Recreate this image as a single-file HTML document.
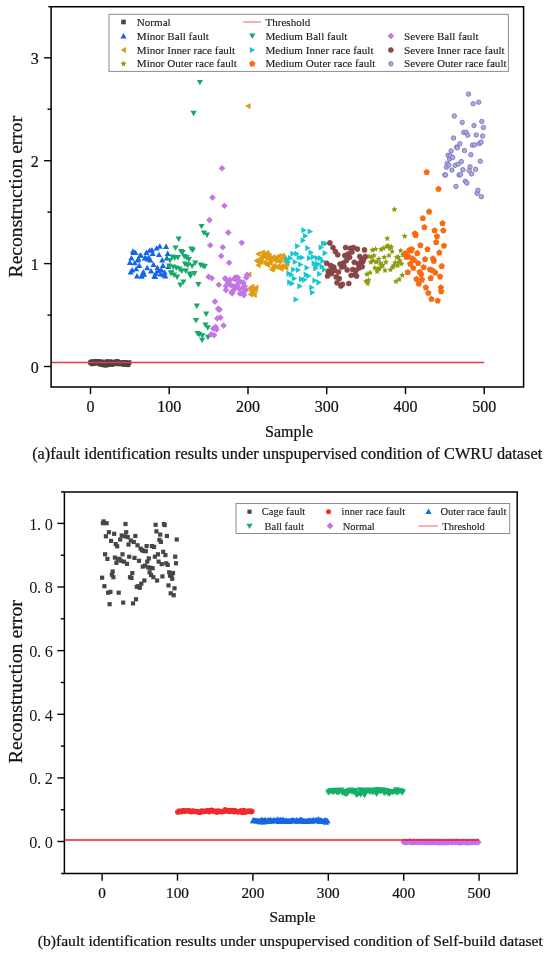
<!DOCTYPE html>
<html><head><meta charset="utf-8"><title>fault identification results</title>
<style>html,body{margin:0;padding:0;background:#fff}svg{display:block}text{stroke:#000;stroke-width:0.22px;paint-order:stroke}.t1 text{stroke-width:0.2px}.lg text,text.lg{stroke-width:0.12px}.y2 text{stroke-width:0px}</style>
</head><body><svg width="550" height="957" viewBox="0 0 550 957"><defs><path id="sq" d="M-2.3,-2.3h4.6v4.6h-4.6Z"/><path id="sq2" d="M-2.1,-2.1h4.2v4.2h-4.2Z"/><path id="tu" d="M0,-2.9L3.1,2.5L-3.1,2.5Z"/><path id="td" d="M0,2.9L3.1,-2.5L-3.1,-2.5Z"/><path id="tl" d="M-2.9,0L2.5,-3.1L2.5,3.1Z"/><path id="tr" d="M2.9,0L-2.5,-3.1L-2.5,3.1Z"/><path id="st" d="M0.00,-3.25 L0.88,-1.21 L3.09,-1.00 L1.43,0.46 L1.91,2.63 L0.00,1.50 L-1.91,2.63 L-1.43,0.46 L-3.09,-1.00 L-0.88,-1.21Z"/><path id="pe" d="M0.00,-3.35 L3.19,-1.04 L1.97,2.71 L-1.97,2.71 L-3.19,-1.04Z"/><path id="di" d="M0,-3.3L3.3,0L0,3.3L-3.3,0Z"/></defs><rect width="550" height="957" fill="#fff"/><g fill="#454545"><use href="#sq" x="90.5" y="362.6"/><use href="#sq" x="91.3" y="361.9"/><use href="#sq" x="92.1" y="363.9"/><use href="#sq" x="92.9" y="361.6"/><use href="#sq" x="93.6" y="363.4"/><use href="#sq" x="94.4" y="362.8"/><use href="#sq" x="95.2" y="361.5"/><use href="#sq" x="96.0" y="363.3"/><use href="#sq" x="96.8" y="361.4"/><use href="#sq" x="97.6" y="363.0"/><use href="#sq" x="98.4" y="361.6"/><use href="#sq" x="99.2" y="361.7"/><use href="#sq" x="99.9" y="363.0"/><use href="#sq" x="100.7" y="364.6"/><use href="#sq" x="101.5" y="361.8"/><use href="#sq" x="102.3" y="362.2"/><use href="#sq" x="103.1" y="363.8"/><use href="#sq" x="103.9" y="365.1"/><use href="#sq" x="104.7" y="363.6"/><use href="#sq" x="105.5" y="362.9"/><use href="#sq" x="106.2" y="365.2"/><use href="#sq" x="107.0" y="361.5"/><use href="#sq" x="107.8" y="364.7"/><use href="#sq" x="108.6" y="362.5"/><use href="#sq" x="109.4" y="361.9"/><use href="#sq" x="110.2" y="361.8"/><use href="#sq" x="111.0" y="362.5"/><use href="#sq" x="111.8" y="364.6"/><use href="#sq" x="112.5" y="362.0"/><use href="#sq" x="113.3" y="363.6"/><use href="#sq" x="114.1" y="363.9"/><use href="#sq" x="114.9" y="362.8"/><use href="#sq" x="115.7" y="363.5"/><use href="#sq" x="116.5" y="361.6"/><use href="#sq" x="117.3" y="361.5"/><use href="#sq" x="118.1" y="362.1"/><use href="#sq" x="118.8" y="364.0"/><use href="#sq" x="119.6" y="363.0"/><use href="#sq" x="120.4" y="362.6"/><use href="#sq" x="121.2" y="363.6"/><use href="#sq" x="122.0" y="363.1"/><use href="#sq" x="122.8" y="362.5"/><use href="#sq" x="123.6" y="364.5"/><use href="#sq" x="124.4" y="364.1"/><use href="#sq" x="125.1" y="362.3"/><use href="#sq" x="125.9" y="363.6"/><use href="#sq" x="126.7" y="363.4"/><use href="#sq" x="127.5" y="364.8"/><use href="#sq" x="128.3" y="364.2"/><use href="#sq" x="129.1" y="362.5"/></g><g fill="#1466E6"><use href="#tu" x="129.9" y="262.4"/><use href="#tu" x="130.7" y="272.1"/><use href="#tu" x="131.4" y="258.0"/><use href="#tu" x="132.2" y="270.0"/><use href="#tu" x="133.0" y="251.2"/><use href="#tu" x="133.8" y="252.4"/><use href="#tu" x="134.6" y="262.8"/><use href="#tu" x="135.4" y="252.6"/><use href="#tu" x="136.2" y="268.8"/><use href="#tu" x="137.0" y="275.9"/><use href="#tu" x="137.7" y="260.0"/><use href="#tu" x="138.5" y="258.8"/><use href="#tu" x="139.3" y="265.5"/><use href="#tu" x="140.1" y="255.2"/><use href="#tu" x="140.9" y="255.3"/><use href="#tu" x="141.7" y="276.2"/><use href="#tu" x="142.5" y="274.2"/><use href="#tu" x="143.3" y="272.0"/><use href="#tu" x="144.0" y="274.3"/><use href="#tu" x="144.8" y="257.9"/><use href="#tu" x="145.6" y="257.7"/><use href="#tu" x="146.4" y="252.4"/><use href="#tu" x="147.2" y="267.7"/><use href="#tu" x="148.0" y="258.9"/><use href="#tu" x="148.8" y="257.4"/><use href="#tu" x="149.6" y="250.3"/><use href="#tu" x="150.3" y="260.0"/><use href="#tu" x="151.1" y="271.0"/><use href="#tu" x="151.9" y="249.8"/><use href="#tu" x="152.7" y="253.5"/><use href="#tu" x="153.5" y="264.4"/><use href="#tu" x="154.3" y="276.1"/><use href="#tu" x="155.1" y="276.4"/><use href="#tu" x="155.9" y="273.2"/><use href="#tu" x="156.6" y="248.1"/><use href="#tu" x="157.4" y="267.7"/><use href="#tu" x="158.2" y="270.7"/><use href="#tu" x="159.0" y="254.6"/><use href="#tu" x="159.8" y="246.2"/><use href="#tu" x="160.6" y="274.1"/><use href="#tu" x="161.4" y="270.0"/><use href="#tu" x="162.2" y="260.0"/><use href="#tu" x="162.9" y="265.5"/><use href="#tu" x="163.7" y="274.8"/><use href="#tu" x="164.5" y="272.2"/><use href="#tu" x="165.3" y="276.0"/><use href="#tu" x="166.1" y="246.5"/><use href="#tu" x="166.9" y="258.0"/><use href="#tu" x="167.7" y="253.5"/><use href="#tu" x="168.5" y="266.6"/></g><g fill="#12AA68"><use href="#td" x="169.2" y="266.1"/><use href="#td" x="170.0" y="260.5"/><use href="#td" x="170.8" y="273.0"/><use href="#td" x="171.6" y="272.8"/><use href="#td" x="172.4" y="257.0"/><use href="#td" x="173.2" y="267.0"/><use href="#td" x="174.0" y="275.0"/><use href="#td" x="174.8" y="258.0"/><use href="#td" x="175.5" y="248.0"/><use href="#td" x="176.3" y="268.0"/><use href="#td" x="177.1" y="277.0"/><use href="#td" x="177.9" y="257.5"/><use href="#td" x="178.7" y="239.0"/><use href="#td" x="179.5" y="269.0"/><use href="#td" x="180.3" y="285.0"/><use href="#td" x="181.1" y="251.5"/><use href="#td" x="181.8" y="271.0"/><use href="#td" x="182.6" y="252.5"/><use href="#td" x="183.4" y="282.0"/><use href="#td" x="184.2" y="256.5"/><use href="#td" x="185.0" y="264.0"/><use href="#td" x="185.8" y="271.0"/><use href="#td" x="186.6" y="257.5"/><use href="#td" x="187.4" y="265.0"/><use href="#td" x="188.1" y="264.9"/><use href="#td" x="188.9" y="259.5"/><use href="#td" x="189.7" y="274.0"/><use href="#td" x="190.5" y="276.0"/><use href="#td" x="191.3" y="249.0"/><use href="#td" x="192.1" y="266.0"/><use href="#td" x="192.9" y="250.0"/><use href="#td" x="193.6" y="113.3"/><use href="#td" x="194.4" y="273.5"/><use href="#td" x="195.2" y="263.0"/><use href="#td" x="196.0" y="320.5"/><use href="#td" x="196.8" y="306.0"/><use href="#td" x="197.6" y="333.6"/><use href="#td" x="198.4" y="284.5"/><use href="#td" x="199.2" y="334.4"/><use href="#td" x="199.9" y="82.4"/><use href="#td" x="200.7" y="265.0"/><use href="#td" x="201.5" y="226.4"/><use href="#td" x="202.3" y="335.8"/><use href="#td" x="203.1" y="266.0"/><use href="#td" x="203.9" y="232.9"/><use href="#td" x="204.7" y="266.5"/><use href="#td" x="205.5" y="324.9"/><use href="#td" x="206.2" y="314.0"/><use href="#td" x="207.0" y="235.1"/><use href="#td" x="207.8" y="327.8"/><use href="#td" x="202.1" y="340.2"/><use href="#td" x="208.0" y="337.3"/></g><g fill="#E29C12"><use href="#tl" x="248.0" y="106.1"/><use href="#tl" x="248.8" y="274.5"/><use href="#tl" x="249.6" y="288.5"/><use href="#tl" x="250.3" y="294.5"/><use href="#tl" x="251.1" y="291.0"/><use href="#tl" x="251.9" y="286.5"/><use href="#tl" x="252.7" y="292.5"/><use href="#tl" x="253.5" y="289.5"/><use href="#tl" x="254.3" y="295.0"/><use href="#tl" x="255.1" y="290.0"/><use href="#tl" x="255.9" y="287.5"/><use href="#tl" x="256.6" y="260.5"/><use href="#tl" x="257.4" y="261.6"/><use href="#tl" x="258.2" y="265.2"/><use href="#tl" x="259.0" y="260.7"/><use href="#tl" x="259.8" y="261.1"/><use href="#tl" x="260.6" y="261.9"/><use href="#tl" x="261.4" y="257.8"/><use href="#tl" x="262.2" y="255.8"/><use href="#tl" x="262.9" y="253.1"/><use href="#tl" x="263.7" y="256.0"/><use href="#tl" x="264.5" y="262.2"/><use href="#tl" x="265.3" y="256.8"/><use href="#tl" x="266.1" y="256.6"/><use href="#tl" x="266.9" y="252.9"/><use href="#tl" x="267.7" y="265.2"/><use href="#tl" x="268.5" y="255.4"/><use href="#tl" x="269.2" y="256.7"/><use href="#tl" x="270.0" y="262.2"/><use href="#tl" x="270.8" y="259.8"/><use href="#tl" x="271.6" y="269.5"/><use href="#tl" x="272.4" y="269.4"/><use href="#tl" x="273.2" y="267.3"/><use href="#tl" x="274.0" y="265.6"/><use href="#tl" x="274.8" y="260.3"/><use href="#tl" x="275.5" y="259.1"/><use href="#tl" x="276.3" y="259.9"/><use href="#tl" x="277.1" y="256.9"/><use href="#tl" x="277.9" y="266.3"/><use href="#tl" x="278.7" y="261.4"/><use href="#tl" x="279.5" y="267.4"/><use href="#tl" x="280.3" y="260.3"/><use href="#tl" x="281.1" y="267.5"/><use href="#tl" x="281.8" y="266.1"/><use href="#tl" x="282.6" y="255.5"/><use href="#tl" x="283.4" y="258.1"/><use href="#tl" x="284.2" y="266.9"/><use href="#tl" x="285.0" y="261.4"/><use href="#tl" x="285.8" y="267.8"/><use href="#tl" x="286.6" y="260.5"/><use href="#tl" x="258.0" y="254.0"/><use href="#tl" x="262.0" y="252.5"/><use href="#tl" x="265.0" y="255.0"/><use href="#tl" x="268.0" y="259.0"/><use href="#tl" x="273.0" y="257.0"/><use href="#tl" x="279.0" y="256.0"/><use href="#tl" x="284.0" y="258.0"/><use href="#tl" x="287.0" y="264.0"/><use href="#tl" x="281.0" y="269.0"/><use href="#tl" x="259.0" y="262.0"/><use href="#tl" x="266.0" y="264.0"/><use href="#tl" x="276.0" y="267.0"/><use href="#tl" x="270.0" y="263.0"/></g><g fill="#8E9A12"><use href="#st" x="366.1" y="281.2"/><use href="#st" x="366.9" y="274.2"/><use href="#st" x="367.7" y="283.5"/><use href="#st" x="368.5" y="280.2"/><use href="#st" x="369.2" y="256.5"/><use href="#st" x="370.0" y="272.8"/><use href="#st" x="370.8" y="262.2"/><use href="#st" x="371.6" y="257.0"/><use href="#st" x="372.4" y="250.0"/><use href="#st" x="373.2" y="260.8"/><use href="#st" x="374.0" y="255.6"/><use href="#st" x="374.8" y="267.9"/><use href="#st" x="375.5" y="249.1"/><use href="#st" x="376.3" y="262.2"/><use href="#st" x="377.1" y="271.5"/><use href="#st" x="377.9" y="268.8"/><use href="#st" x="378.7" y="258.9"/><use href="#st" x="379.5" y="268.7"/><use href="#st" x="380.3" y="263.0"/><use href="#st" x="381.1" y="249.5"/><use href="#st" x="381.8" y="266.3"/><use href="#st" x="382.6" y="265.3"/><use href="#st" x="383.4" y="248.3"/><use href="#st" x="384.2" y="257.3"/><use href="#st" x="385.0" y="270.4"/><use href="#st" x="385.8" y="262.0"/><use href="#st" x="386.6" y="246.6"/><use href="#st" x="387.3" y="238.5"/><use href="#st" x="388.1" y="245.8"/><use href="#st" x="388.9" y="255.6"/><use href="#st" x="389.7" y="248.3"/><use href="#st" x="390.5" y="269.7"/><use href="#st" x="391.3" y="246.9"/><use href="#st" x="392.1" y="251.6"/><use href="#st" x="392.9" y="267.1"/><use href="#st" x="393.6" y="265.6"/><use href="#st" x="394.4" y="209.5"/><use href="#st" x="395.2" y="262.7"/><use href="#st" x="396.0" y="281.4"/><use href="#st" x="396.8" y="257.3"/><use href="#st" x="397.6" y="265.5"/><use href="#st" x="398.4" y="257.0"/><use href="#st" x="399.2" y="279.4"/><use href="#st" x="399.9" y="260.6"/><use href="#st" x="400.7" y="250.7"/><use href="#st" x="401.5" y="263.8"/><use href="#st" x="402.3" y="275.3"/><use href="#st" x="403.1" y="255.0"/><use href="#st" x="403.9" y="254.4"/><use href="#st" x="404.7" y="236.2"/><use href="#st" x="399.0" y="262.0"/></g><g fill="#14C6D0"><use href="#tr" x="287.4" y="259.2"/><use href="#tr" x="288.1" y="262.0"/><use href="#tr" x="288.9" y="273.6"/><use href="#tr" x="289.7" y="282.4"/><use href="#tr" x="290.5" y="258.2"/><use href="#tr" x="291.3" y="274.7"/><use href="#tr" x="292.1" y="283.6"/><use href="#tr" x="292.9" y="253.7"/><use href="#tr" x="293.6" y="269.6"/><use href="#tr" x="294.4" y="278.5"/><use href="#tr" x="295.2" y="262.0"/><use href="#tr" x="296.0" y="299.5"/><use href="#tr" x="296.8" y="253.7"/><use href="#tr" x="297.6" y="246.1"/><use href="#tr" x="298.4" y="270.0"/><use href="#tr" x="299.2" y="257.5"/><use href="#tr" x="299.9" y="286.2"/><use href="#tr" x="300.7" y="264.5"/><use href="#tr" x="301.5" y="279.2"/><use href="#tr" x="302.3" y="257.5"/><use href="#tr" x="303.1" y="240.4"/><use href="#tr" x="303.9" y="230.2"/><use href="#tr" x="304.7" y="279.8"/><use href="#tr" x="305.5" y="235.9"/><use href="#tr" x="306.2" y="274.7"/><use href="#tr" x="307.0" y="267.7"/><use href="#tr" x="307.8" y="248.0"/><use href="#tr" x="308.6" y="276.0"/><use href="#tr" x="309.4" y="258.2"/><use href="#tr" x="310.2" y="231.5"/><use href="#tr" x="311.0" y="252.5"/><use href="#tr" x="311.8" y="287.5"/><use href="#tr" x="312.5" y="292.5"/><use href="#tr" x="313.3" y="256.9"/><use href="#tr" x="314.1" y="263.3"/><use href="#tr" x="314.9" y="280.5"/><use href="#tr" x="315.7" y="268.4"/><use href="#tr" x="316.5" y="266.3"/><use href="#tr" x="317.3" y="258.2"/><use href="#tr" x="318.1" y="263.9"/><use href="#tr" x="318.8" y="282.4"/><use href="#tr" x="319.6" y="274.0"/><use href="#tr" x="320.4" y="258.2"/><use href="#tr" x="321.2" y="247.5"/><use href="#tr" x="322.0" y="266.6"/><use href="#tr" x="322.8" y="261.0"/><use href="#tr" x="323.6" y="243.5"/><use href="#tr" x="324.4" y="269.6"/><use href="#tr" x="325.1" y="253.1"/><use href="#tr" x="325.9" y="243.5"/></g><g fill="#FA6A0E"><use href="#pe" x="405.5" y="253.3"/><use href="#pe" x="406.2" y="257.1"/><use href="#pe" x="407.0" y="255.4"/><use href="#pe" x="407.8" y="272.4"/><use href="#pe" x="408.6" y="256.8"/><use href="#pe" x="409.4" y="250.0"/><use href="#pe" x="410.2" y="264.1"/><use href="#pe" x="411.0" y="250.8"/><use href="#pe" x="411.8" y="249.3"/><use href="#pe" x="412.5" y="258.7"/><use href="#pe" x="413.3" y="268.0"/><use href="#pe" x="414.1" y="260.2"/><use href="#pe" x="414.9" y="233.6"/><use href="#pe" x="415.7" y="235.2"/><use href="#pe" x="416.5" y="279.0"/><use href="#pe" x="417.3" y="253.2"/><use href="#pe" x="418.1" y="263.4"/><use href="#pe" x="418.8" y="283.7"/><use href="#pe" x="419.6" y="272.0"/><use href="#pe" x="420.4" y="245.3"/><use href="#pe" x="421.2" y="274.3"/><use href="#pe" x="422.0" y="279.8"/><use href="#pe" x="422.8" y="218.3"/><use href="#pe" x="423.6" y="267.3"/><use href="#pe" x="424.4" y="227.3"/><use href="#pe" x="425.1" y="259.4"/><use href="#pe" x="425.9" y="287.6"/><use href="#pe" x="426.7" y="172.2"/><use href="#pe" x="427.5" y="249.3"/><use href="#pe" x="428.3" y="293.1"/><use href="#pe" x="429.1" y="211.7"/><use href="#pe" x="429.9" y="269.6"/><use href="#pe" x="430.7" y="278.2"/><use href="#pe" x="431.4" y="299.1"/><use href="#pe" x="432.2" y="270.4"/><use href="#pe" x="433.0" y="258.7"/><use href="#pe" x="433.8" y="261.0"/><use href="#pe" x="434.6" y="230.5"/><use href="#pe" x="435.4" y="272.7"/><use href="#pe" x="436.2" y="242.2"/><use href="#pe" x="437.0" y="236.3"/><use href="#pe" x="437.7" y="300.9"/><use href="#pe" x="438.5" y="189.0"/><use href="#pe" x="439.3" y="252.7"/><use href="#pe" x="440.1" y="276.7"/><use href="#pe" x="440.9" y="287.6"/><use href="#pe" x="441.7" y="266.2"/><use href="#pe" x="442.5" y="223.4"/><use href="#pe" x="443.3" y="230.5"/><use href="#pe" x="444.0" y="245.8"/><use href="#pe" x="441.2" y="291.5"/></g><g fill="#C476E5"><use href="#di" x="208.6" y="276.7"/><use href="#di" x="209.4" y="220.1"/><use href="#di" x="210.2" y="245.2"/><use href="#di" x="211.0" y="334.4"/><use href="#di" x="211.8" y="278.3"/><use href="#di" x="212.5" y="197.6"/><use href="#di" x="213.3" y="328.5"/><use href="#di" x="214.1" y="335.1"/><use href="#di" x="214.9" y="301.6"/><use href="#di" x="215.7" y="327.1"/><use href="#di" x="216.5" y="329.4"/><use href="#di" x="217.3" y="318.4"/><use href="#di" x="218.1" y="308.9"/><use href="#di" x="218.8" y="284.7"/><use href="#di" x="219.6" y="309.6"/><use href="#di" x="220.4" y="317.6"/><use href="#di" x="221.2" y="256.0"/><use href="#di" x="222.0" y="168.2"/><use href="#di" x="222.8" y="247.2"/><use href="#di" x="223.6" y="325.6"/><use href="#di" x="224.4" y="205.7"/><use href="#di" x="225.1" y="278.4"/><use href="#di" x="225.9" y="290.1"/><use href="#di" x="226.7" y="280.0"/><use href="#di" x="227.5" y="284.0"/><use href="#di" x="228.3" y="232.6"/><use href="#di" x="229.1" y="262.7"/><use href="#di" x="229.9" y="279.9"/><use href="#di" x="230.7" y="284.9"/><use href="#di" x="231.4" y="292.2"/><use href="#di" x="232.2" y="293.3"/><use href="#di" x="233.0" y="286.3"/><use href="#di" x="233.8" y="290.0"/><use href="#di" x="234.6" y="279.1"/><use href="#di" x="235.4" y="277.4"/><use href="#di" x="236.2" y="286.4"/><use href="#di" x="237.0" y="285.0"/><use href="#di" x="237.7" y="277.6"/><use href="#di" x="238.5" y="281.2"/><use href="#di" x="239.3" y="289.0"/><use href="#di" x="240.1" y="293.6"/><use href="#di" x="240.9" y="282.0"/><use href="#di" x="241.7" y="242.7"/><use href="#di" x="242.5" y="287.8"/><use href="#di" x="243.3" y="282.5"/><use href="#di" x="244.0" y="295.1"/><use href="#di" x="244.8" y="286.3"/><use href="#di" x="245.6" y="290.1"/><use href="#di" x="246.4" y="277.4"/><use href="#di" x="247.2" y="274.8"/><use href="#di" x="243.2" y="292.6"/><use href="#di" x="226.0" y="286.0"/></g><g fill="#8C4848" stroke="#7a3c3c" stroke-width="0.5"><circle cx="326.7" cy="263.3" r="2.55"/><circle cx="327.5" cy="276.0" r="2.55"/><circle cx="328.3" cy="272.0" r="2.55"/><circle cx="329.1" cy="270.7" r="2.55"/><circle cx="329.9" cy="242.9" r="2.55"/><circle cx="330.7" cy="265.5" r="2.55"/><circle cx="331.4" cy="273.6" r="2.55"/><circle cx="332.2" cy="270.8" r="2.55"/><circle cx="333.0" cy="247.5" r="2.55"/><circle cx="333.8" cy="267.1" r="2.55"/><circle cx="334.6" cy="270.4" r="2.55"/><circle cx="335.4" cy="251.6" r="2.55"/><circle cx="336.2" cy="276.9" r="2.55"/><circle cx="337.0" cy="282.7" r="2.55"/><circle cx="337.7" cy="254.8" r="2.55"/><circle cx="338.5" cy="272.0" r="2.55"/><circle cx="339.3" cy="278.6" r="2.55"/><circle cx="340.1" cy="264.0" r="2.55"/><circle cx="340.9" cy="285.9" r="2.55"/><circle cx="341.7" cy="267.1" r="2.55"/><circle cx="342.5" cy="284.3" r="2.55"/><circle cx="343.3" cy="263.0" r="2.55"/><circle cx="344.0" cy="266.3" r="2.55"/><circle cx="344.8" cy="255.6" r="2.55"/><circle cx="345.6" cy="247.5" r="2.55"/><circle cx="346.4" cy="260.6" r="2.55"/><circle cx="347.2" cy="270.0" r="2.55"/><circle cx="348.0" cy="254.0" r="2.55"/><circle cx="348.8" cy="283.5" r="2.55"/><circle cx="349.6" cy="257.3" r="2.55"/><circle cx="350.3" cy="248.3" r="2.55"/><circle cx="351.1" cy="275.3" r="2.55"/><circle cx="351.9" cy="252.0" r="2.55"/><circle cx="352.7" cy="269.5" r="2.55"/><circle cx="353.5" cy="247.5" r="2.55"/><circle cx="354.3" cy="262.2" r="2.55"/><circle cx="355.1" cy="274.5" r="2.55"/><circle cx="355.9" cy="270.4" r="2.55"/><circle cx="356.6" cy="276.1" r="2.55"/><circle cx="357.4" cy="249.1" r="2.55"/><circle cx="358.2" cy="263.8" r="2.55"/><circle cx="359.0" cy="267.9" r="2.55"/><circle cx="359.8" cy="256.5" r="2.55"/><circle cx="360.6" cy="265.5" r="2.55"/><circle cx="361.4" cy="260.7" r="2.55"/><circle cx="362.2" cy="266.7" r="2.55"/><circle cx="362.9" cy="261.4" r="2.55"/><circle cx="363.7" cy="258.9" r="2.55"/><circle cx="364.5" cy="249.9" r="2.55"/><circle cx="365.3" cy="256.5" r="2.55"/></g><g fill="#9DAFE6" stroke="#8662B2" stroke-width="0.75"><circle cx="444.8" cy="174.9" r="2.25"/><circle cx="445.6" cy="175.0" r="2.25"/><circle cx="446.4" cy="167.2" r="2.25"/><circle cx="447.2" cy="163.4" r="2.25"/><circle cx="448.0" cy="155.3" r="2.25"/><circle cx="448.8" cy="165.1" r="2.25"/><circle cx="449.6" cy="159.0" r="2.25"/><circle cx="450.3" cy="155.9" r="2.25"/><circle cx="451.1" cy="150.9" r="2.25"/><circle cx="451.9" cy="170.1" r="2.25"/><circle cx="452.7" cy="157.5" r="2.25"/><circle cx="453.5" cy="138.0" r="2.25"/><circle cx="454.3" cy="116.0" r="2.25"/><circle cx="455.1" cy="165.3" r="2.25"/><circle cx="455.9" cy="186.4" r="2.25"/><circle cx="456.6" cy="147.1" r="2.25"/><circle cx="457.4" cy="147.8" r="2.25"/><circle cx="458.2" cy="164.1" r="2.25"/><circle cx="459.0" cy="175.1" r="2.25"/><circle cx="459.8" cy="143.7" r="2.25"/><circle cx="460.6" cy="174.4" r="2.25"/><circle cx="461.4" cy="161.6" r="2.25"/><circle cx="462.2" cy="122.4" r="2.25"/><circle cx="462.9" cy="169.7" r="2.25"/><circle cx="463.7" cy="132.4" r="2.25"/><circle cx="464.5" cy="150.6" r="2.25"/><circle cx="465.3" cy="181.3" r="2.25"/><circle cx="466.1" cy="132.3" r="2.25"/><circle cx="466.9" cy="183.1" r="2.25"/><circle cx="467.7" cy="135.2" r="2.25"/><circle cx="468.5" cy="94.1" r="2.25"/><circle cx="469.2" cy="170.6" r="2.25"/><circle cx="470.0" cy="166.8" r="2.25"/><circle cx="470.8" cy="154.7" r="2.25"/><circle cx="471.6" cy="173.9" r="2.25"/><circle cx="472.4" cy="145.2" r="2.25"/><circle cx="473.2" cy="103.8" r="2.25"/><circle cx="474.0" cy="125.5" r="2.25"/><circle cx="474.8" cy="144.8" r="2.25"/><circle cx="475.5" cy="169.3" r="2.25"/><circle cx="476.3" cy="135.0" r="2.25"/><circle cx="477.1" cy="193.3" r="2.25"/><circle cx="477.9" cy="190.2" r="2.25"/><circle cx="478.7" cy="102.2" r="2.25"/><circle cx="479.5" cy="143.4" r="2.25"/><circle cx="480.3" cy="161.3" r="2.25"/><circle cx="481.1" cy="142.1" r="2.25"/><circle cx="481.8" cy="121.4" r="2.25"/><circle cx="482.6" cy="136.1" r="2.25"/><circle cx="483.4" cy="127.4" r="2.25"/><circle cx="481.4" cy="196.7" r="2.25"/></g><line x1="51.1" y1="362.6" x2="484.2" y2="362.6" stroke="#EE3440" stroke-width="1.5"/><g stroke="#000" stroke-width="1.5" fill="none" stroke-linejoin="miter"><path d="M51.1,6.7 H523.6 V387.0 H51.1 Z"/><path d="M48.3,6.7 H51.1"/></g><g stroke="#000" stroke-width="1.4"><line x1="90.5" y1="387.0" x2="90.5" y2="394.2"/><line x1="169.2" y1="387.0" x2="169.2" y2="394.2"/><line x1="248.0" y1="387.0" x2="248.0" y2="394.2"/><line x1="326.7" y1="387.0" x2="326.7" y2="394.2"/><line x1="405.5" y1="387.0" x2="405.5" y2="394.2"/><line x1="484.2" y1="387.0" x2="484.2" y2="394.2"/><line x1="51.1" y1="366.5" x2="44.1" y2="366.5"/><line x1="51.1" y1="263.6" x2="44.1" y2="263.6"/><line x1="51.1" y1="160.7" x2="44.1" y2="160.7"/><line x1="51.1" y1="57.8" x2="44.1" y2="57.8"/><line x1="51.1" y1="315.1" x2="47.5" y2="315.1"/><line x1="51.1" y1="212.1" x2="47.5" y2="212.1"/><line x1="51.1" y1="109.2" x2="47.5" y2="109.2"/></g><g class="t1" style="font-family:'Liberation Serif','Times New Roman',serif;font-size:16px" fill="#111" text-anchor="middle"><text x="90.5" y="412.2">0</text><text x="169.2" y="412.2">100</text><text x="248.0" y="412.2">200</text><text x="326.7" y="412.2">300</text><text x="405.5" y="412.2">400</text><text x="484.2" y="412.2">500</text></g><g class="t1" style="font-family:'Liberation Serif','Times New Roman',serif;font-size:16px" fill="#111" text-anchor="end"><text x="38.8" y="372.5">0</text><text x="38.8" y="269.6">1</text><text x="38.8" y="166.7">2</text><text x="38.8" y="63.8">3</text></g><text x="289.1" y="436.5" text-anchor="middle" style="font-family:'Liberation Serif','Times New Roman',serif;font-size:16px" fill="#111">Sample</text><text transform="translate(21.9,196.6) rotate(-90)" text-anchor="middle" style="font-family:'Liberation Serif','Times New Roman',serif;font-size:19.6px" fill="#111">Reconstruction error</text><text x="32.2" y="459.2" textLength="510" lengthAdjust="spacingAndGlyphs" style="font-family:'Liberation Serif','Times New Roman',serif;font-size:15.7px" fill="#111">(a)fault identification results under unspupervised condition of CWRU dataset</text><rect x="109" y="14.3" width="399.4" height="57.1" fill="#fff" stroke="#8c8c8c" stroke-width="1"/><use href="#sq" x="123.5" y="22.0" fill="#454545"/><text class="lg" x="136.8" y="25.5" style="font-family:'Liberation Serif','Times New Roman',serif;font-size:11.1px" fill="#1a1a1a">Normal</text><use href="#tu" x="123.5" y="36.0" fill="#1466E6"/><text class="lg" x="136.8" y="39.5" style="font-family:'Liberation Serif','Times New Roman',serif;font-size:11.1px" fill="#1a1a1a">Minor Ball fault</text><use href="#tl" x="123.5" y="50.0" fill="#E29C12"/><text class="lg" x="136.8" y="53.5" style="font-family:'Liberation Serif','Times New Roman',serif;font-size:11.1px" fill="#1a1a1a">Minor Inner race fault</text><use href="#st" x="123.5" y="63.8" fill="#8E9A12"/><text class="lg" x="136.8" y="67.3" style="font-family:'Liberation Serif','Times New Roman',serif;font-size:11.1px" fill="#1a1a1a">Minor Outer race fault</text><line x1="243.2" y1="22.0" x2="260.9" y2="22.0" stroke="#F59A9A" stroke-width="1.6"/><text class="lg" x="265.4" y="25.5" style="font-family:'Liberation Serif','Times New Roman',serif;font-size:11.1px" fill="#1a1a1a">Threshold</text><use href="#td" x="252.3" y="36.0" fill="#12AA68"/><text class="lg" x="265.4" y="39.5" style="font-family:'Liberation Serif','Times New Roman',serif;font-size:11.1px" fill="#1a1a1a">Medium Ball fault</text><use href="#tr" x="252.3" y="50.0" fill="#14C6D0"/><text class="lg" x="265.4" y="53.5" style="font-family:'Liberation Serif','Times New Roman',serif;font-size:11.1px" fill="#1a1a1a">Medium Inner race fault</text><use href="#pe" x="252.3" y="63.8" fill="#FA6A0E"/><text class="lg" x="265.4" y="67.3" style="font-family:'Liberation Serif','Times New Roman',serif;font-size:11.1px" fill="#1a1a1a">Medium Outer race fault</text><use href="#di" x="390.9" y="36.0" fill="#C476E5"/><text class="lg" x="404.0" y="39.5" style="font-family:'Liberation Serif','Times New Roman',serif;font-size:11.1px" fill="#1a1a1a">Severe Ball fault</text><circle cx="390.9" cy="50.0" r="2.5" fill="#8C4848" stroke="#7a3c3c" stroke-width="0.5"/><text class="lg" x="404.0" y="53.5" style="font-family:'Liberation Serif','Times New Roman',serif;font-size:11.1px" fill="#1a1a1a">Severe Inner race fault</text><circle cx="390.9" cy="63.8" r="2.25" fill="#9DAFE6" stroke="#8662B2" stroke-width="0.75"/><text class="lg" x="404.0" y="67.3" style="font-family:'Liberation Serif','Times New Roman',serif;font-size:11.1px" fill="#1a1a1a">Severe Outer race fault</text><g fill="#464646"><use href="#sq2" x="102.1" y="577.7"/><use href="#sq2" x="102.9" y="523.2"/><use href="#sq2" x="103.6" y="521.4"/><use href="#sq2" x="104.4" y="586.2"/><use href="#sq2" x="105.1" y="554.3"/><use href="#sq2" x="105.9" y="536.3"/><use href="#sq2" x="106.6" y="523.2"/><use href="#sq2" x="107.4" y="558.9"/><use href="#sq2" x="108.1" y="592.7"/><use href="#sq2" x="108.9" y="532.2"/><use href="#sq2" x="109.6" y="604.2"/><use href="#sq2" x="110.4" y="591.9"/><use href="#sq2" x="111.1" y="540.9"/><use href="#sq2" x="111.9" y="574.7"/><use href="#sq2" x="112.7" y="571.5"/><use href="#sq2" x="113.4" y="577.2"/><use href="#sq2" x="114.2" y="533.8"/><use href="#sq2" x="114.9" y="557.6"/><use href="#sq2" x="115.7" y="544.1"/><use href="#sq2" x="116.4" y="562.8"/><use href="#sq2" x="117.2" y="546.3"/><use href="#sq2" x="117.9" y="558.9"/><use href="#sq2" x="118.7" y="592.7"/><use href="#sq2" x="119.4" y="559.0"/><use href="#sq2" x="120.2" y="539.5"/><use href="#sq2" x="120.9" y="560.8"/><use href="#sq2" x="121.7" y="535.5"/><use href="#sq2" x="122.5" y="554.3"/><use href="#sq2" x="123.2" y="602.6"/><use href="#sq2" x="124.0" y="561.6"/><use href="#sq2" x="124.7" y="536.3"/><use href="#sq2" x="125.5" y="524.0"/><use href="#sq2" x="126.2" y="532.2"/><use href="#sq2" x="127.0" y="563.8"/><use href="#sq2" x="127.7" y="537.1"/><use href="#sq2" x="128.5" y="544.5"/><use href="#sq2" x="129.2" y="556.7"/><use href="#sq2" x="130.0" y="577.2"/><use href="#sq2" x="130.8" y="540.5"/><use href="#sq2" x="131.5" y="578.0"/><use href="#sq2" x="132.3" y="573.1"/><use href="#sq2" x="133.0" y="603.4"/><use href="#sq2" x="133.8" y="542.0"/><use href="#sq2" x="134.5" y="557.9"/><use href="#sq2" x="135.3" y="536.0"/><use href="#sq2" x="136.0" y="599.3"/><use href="#sq2" x="136.8" y="586.8"/><use href="#sq2" x="137.5" y="545.3"/><use href="#sq2" x="138.3" y="586.2"/><use href="#sq2" x="139.0" y="560.8"/><use href="#sq2" x="139.8" y="587.8"/><use href="#sq2" x="140.6" y="548.6"/><use href="#sq2" x="141.3" y="583.7"/><use href="#sq2" x="142.1" y="550.2"/><use href="#sq2" x="142.8" y="566.6"/><use href="#sq2" x="143.6" y="551.0"/><use href="#sq2" x="144.3" y="580.5"/><use href="#sq2" x="145.1" y="565.6"/><use href="#sq2" x="145.8" y="551.2"/><use href="#sq2" x="146.6" y="546.1"/><use href="#sq2" x="147.3" y="561.6"/><use href="#sq2" x="148.1" y="567.4"/><use href="#sq2" x="148.8" y="558.4"/><use href="#sq2" x="149.6" y="572.3"/><use href="#sq2" x="150.4" y="567.7"/><use href="#sq2" x="151.1" y="575.0"/><use href="#sq2" x="151.9" y="546.1"/><use href="#sq2" x="152.6" y="568.2"/><use href="#sq2" x="153.4" y="577.2"/><use href="#sq2" x="154.1" y="546.9"/><use href="#sq2" x="154.9" y="556.7"/><use href="#sq2" x="155.6" y="524.8"/><use href="#sq2" x="156.4" y="531.4"/><use href="#sq2" x="157.1" y="580.5"/><use href="#sq2" x="157.9" y="554.3"/><use href="#sq2" x="158.6" y="561.6"/><use href="#sq2" x="159.4" y="539.9"/><use href="#sq2" x="160.2" y="534.6"/><use href="#sq2" x="160.9" y="541.9"/><use href="#sq2" x="161.7" y="564.1"/><use href="#sq2" x="162.4" y="576.4"/><use href="#sq2" x="163.2" y="551.8"/><use href="#sq2" x="163.9" y="524.1"/><use href="#sq2" x="164.7" y="525.1"/><use href="#sq2" x="165.4" y="555.1"/><use href="#sq2" x="166.2" y="563.3"/><use href="#sq2" x="166.9" y="536.0"/><use href="#sq2" x="167.7" y="564.9"/><use href="#sq2" x="168.5" y="585.4"/><use href="#sq2" x="169.2" y="572.3"/><use href="#sq2" x="170.0" y="575.6"/><use href="#sq2" x="170.7" y="593.3"/><use href="#sq2" x="171.5" y="576.2"/><use href="#sq2" x="172.2" y="578.8"/><use href="#sq2" x="173.0" y="573.1"/><use href="#sq2" x="173.7" y="595.2"/><use href="#sq2" x="174.5" y="588.3"/><use href="#sq2" x="175.2" y="556.7"/><use href="#sq2" x="176.0" y="563.3"/><use href="#sq2" x="176.7" y="539.5"/></g><g fill="#F02A2A"><circle cx="177.5" cy="811.9" r="2.5"/><circle cx="178.3" cy="812.2" r="2.5"/><circle cx="179.0" cy="811.0" r="2.5"/><circle cx="179.8" cy="810.9" r="2.5"/><circle cx="180.5" cy="811.5" r="2.5"/><circle cx="181.3" cy="812.1" r="2.5"/><circle cx="182.0" cy="811.3" r="2.5"/><circle cx="182.8" cy="810.4" r="2.5"/><circle cx="183.5" cy="810.6" r="2.5"/><circle cx="184.3" cy="810.9" r="2.5"/><circle cx="185.0" cy="811.4" r="2.5"/><circle cx="185.8" cy="810.9" r="2.5"/><circle cx="186.5" cy="810.7" r="2.5"/><circle cx="187.3" cy="810.7" r="2.5"/><circle cx="188.1" cy="811.0" r="2.5"/><circle cx="188.8" cy="810.5" r="2.5"/><circle cx="189.6" cy="811.0" r="2.5"/><circle cx="190.3" cy="811.2" r="2.5"/><circle cx="191.1" cy="812.0" r="2.5"/><circle cx="191.8" cy="811.1" r="2.5"/><circle cx="192.6" cy="811.8" r="2.5"/><circle cx="193.3" cy="810.8" r="2.5"/><circle cx="194.1" cy="811.8" r="2.5"/><circle cx="194.8" cy="811.5" r="2.5"/><circle cx="195.6" cy="811.2" r="2.5"/><circle cx="196.3" cy="811.5" r="2.5"/><circle cx="197.1" cy="812.0" r="2.5"/><circle cx="197.9" cy="811.4" r="2.5"/><circle cx="198.6" cy="812.1" r="2.5"/><circle cx="199.4" cy="812.4" r="2.5"/><circle cx="200.1" cy="812.4" r="2.5"/><circle cx="200.9" cy="812.3" r="2.5"/><circle cx="201.6" cy="810.7" r="2.5"/><circle cx="202.4" cy="811.5" r="2.5"/><circle cx="203.1" cy="810.9" r="2.5"/><circle cx="203.9" cy="811.7" r="2.5"/><circle cx="204.6" cy="811.2" r="2.5"/><circle cx="205.4" cy="811.2" r="2.5"/><circle cx="206.2" cy="811.2" r="2.5"/><circle cx="206.9" cy="810.6" r="2.5"/><circle cx="207.7" cy="811.0" r="2.5"/><circle cx="208.4" cy="810.5" r="2.5"/><circle cx="209.2" cy="812.0" r="2.5"/><circle cx="209.9" cy="810.6" r="2.5"/><circle cx="210.7" cy="810.9" r="2.5"/><circle cx="211.4" cy="810.0" r="2.5"/><circle cx="212.2" cy="810.2" r="2.5"/><circle cx="212.9" cy="810.6" r="2.5"/><circle cx="213.7" cy="811.5" r="2.5"/><circle cx="214.4" cy="811.6" r="2.5"/><circle cx="215.2" cy="811.4" r="2.5"/><circle cx="216.0" cy="811.0" r="2.5"/><circle cx="216.7" cy="812.4" r="2.5"/><circle cx="217.5" cy="810.9" r="2.5"/><circle cx="218.2" cy="811.0" r="2.5"/><circle cx="219.0" cy="811.8" r="2.5"/><circle cx="219.7" cy="811.0" r="2.5"/><circle cx="220.5" cy="811.7" r="2.5"/><circle cx="221.2" cy="812.1" r="2.5"/><circle cx="222.0" cy="811.5" r="2.5"/><circle cx="222.7" cy="811.7" r="2.5"/><circle cx="223.5" cy="811.5" r="2.5"/><circle cx="224.2" cy="811.0" r="2.5"/><circle cx="225.0" cy="809.6" r="2.5"/><circle cx="225.8" cy="810.6" r="2.5"/><circle cx="226.5" cy="811.2" r="2.5"/><circle cx="227.3" cy="810.2" r="2.5"/><circle cx="228.0" cy="810.7" r="2.5"/><circle cx="228.8" cy="811.1" r="2.5"/><circle cx="229.5" cy="811.7" r="2.5"/><circle cx="230.3" cy="810.2" r="2.5"/><circle cx="231.0" cy="810.6" r="2.5"/><circle cx="231.8" cy="811.0" r="2.5"/><circle cx="232.5" cy="811.2" r="2.5"/><circle cx="233.3" cy="810.2" r="2.5"/><circle cx="234.0" cy="811.9" r="2.5"/><circle cx="234.8" cy="810.5" r="2.5"/><circle cx="235.6" cy="811.6" r="2.5"/><circle cx="236.3" cy="811.0" r="2.5"/><circle cx="237.1" cy="811.4" r="2.5"/><circle cx="237.8" cy="812.2" r="2.5"/><circle cx="238.6" cy="811.7" r="2.5"/><circle cx="239.3" cy="811.5" r="2.5"/><circle cx="240.1" cy="810.9" r="2.5"/><circle cx="240.8" cy="811.1" r="2.5"/><circle cx="241.6" cy="810.8" r="2.5"/><circle cx="242.3" cy="812.7" r="2.5"/><circle cx="243.1" cy="810.7" r="2.5"/><circle cx="243.9" cy="810.2" r="2.5"/><circle cx="244.6" cy="812.4" r="2.5"/><circle cx="245.4" cy="812.2" r="2.5"/><circle cx="246.1" cy="811.3" r="2.5"/><circle cx="246.9" cy="811.8" r="2.5"/><circle cx="247.6" cy="810.9" r="2.5"/><circle cx="248.4" cy="810.9" r="2.5"/><circle cx="249.1" cy="811.5" r="2.5"/><circle cx="249.9" cy="811.3" r="2.5"/><circle cx="250.6" cy="810.8" r="2.5"/><circle cx="251.4" cy="811.9" r="2.5"/><circle cx="252.1" cy="811.3" r="2.5"/></g><g fill="#1468E0"><use href="#tu" x="252.9" y="820.7"/><use href="#tu" x="253.7" y="819.9"/><use href="#tu" x="254.4" y="820.7"/><use href="#tu" x="255.2" y="820.4"/><use href="#tu" x="255.9" y="820.6"/><use href="#tu" x="256.7" y="821.1"/><use href="#tu" x="257.4" y="820.3"/><use href="#tu" x="258.2" y="820.8"/><use href="#tu" x="258.9" y="821.1"/><use href="#tu" x="259.7" y="820.8"/><use href="#tu" x="260.4" y="822.0"/><use href="#tu" x="261.2" y="819.6"/><use href="#tu" x="261.9" y="820.6"/><use href="#tu" x="262.7" y="819.9"/><use href="#tu" x="263.5" y="820.6"/><use href="#tu" x="264.2" y="822.1"/><use href="#tu" x="265.0" y="819.6"/><use href="#tu" x="265.7" y="820.4"/><use href="#tu" x="266.5" y="821.0"/><use href="#tu" x="267.2" y="820.7"/><use href="#tu" x="268.0" y="821.2"/><use href="#tu" x="268.7" y="819.7"/><use href="#tu" x="269.5" y="821.2"/><use href="#tu" x="270.2" y="820.0"/><use href="#tu" x="271.0" y="819.9"/><use href="#tu" x="271.8" y="821.0"/><use href="#tu" x="272.5" y="820.9"/><use href="#tu" x="273.3" y="820.2"/><use href="#tu" x="274.0" y="820.1"/><use href="#tu" x="274.8" y="820.5"/><use href="#tu" x="275.5" y="820.6"/><use href="#tu" x="276.3" y="820.5"/><use href="#tu" x="277.0" y="820.0"/><use href="#tu" x="277.8" y="819.2"/><use href="#tu" x="278.5" y="821.4"/><use href="#tu" x="279.3" y="820.7"/><use href="#tu" x="280.0" y="819.9"/><use href="#tu" x="280.8" y="819.7"/><use href="#tu" x="281.6" y="820.2"/><use href="#tu" x="282.3" y="820.4"/><use href="#tu" x="283.1" y="819.3"/><use href="#tu" x="283.8" y="821.4"/><use href="#tu" x="284.6" y="820.9"/><use href="#tu" x="285.3" y="820.4"/><use href="#tu" x="286.1" y="820.8"/><use href="#tu" x="286.8" y="820.7"/><use href="#tu" x="287.6" y="821.2"/><use href="#tu" x="288.3" y="820.7"/><use href="#tu" x="289.1" y="821.4"/><use href="#tu" x="289.8" y="821.5"/><use href="#tu" x="290.6" y="820.4"/><use href="#tu" x="291.4" y="820.3"/><use href="#tu" x="292.1" y="820.1"/><use href="#tu" x="292.9" y="820.5"/><use href="#tu" x="293.6" y="820.2"/><use href="#tu" x="294.4" y="820.6"/><use href="#tu" x="295.1" y="820.8"/><use href="#tu" x="295.9" y="820.9"/><use href="#tu" x="296.6" y="819.9"/><use href="#tu" x="297.4" y="821.3"/><use href="#tu" x="298.1" y="820.4"/><use href="#tu" x="298.9" y="820.5"/><use href="#tu" x="299.6" y="820.3"/><use href="#tu" x="300.4" y="819.4"/><use href="#tu" x="301.2" y="820.8"/><use href="#tu" x="301.9" y="819.6"/><use href="#tu" x="302.7" y="821.3"/><use href="#tu" x="303.4" y="820.6"/><use href="#tu" x="304.2" y="821.5"/><use href="#tu" x="304.9" y="821.0"/><use href="#tu" x="305.7" y="821.0"/><use href="#tu" x="306.4" y="821.4"/><use href="#tu" x="307.2" y="820.6"/><use href="#tu" x="307.9" y="821.5"/><use href="#tu" x="308.7" y="820.5"/><use href="#tu" x="309.4" y="820.8"/><use href="#tu" x="310.2" y="820.2"/><use href="#tu" x="311.0" y="820.9"/><use href="#tu" x="311.7" y="821.0"/><use href="#tu" x="312.5" y="820.3"/><use href="#tu" x="313.2" y="819.8"/><use href="#tu" x="314.0" y="820.6"/><use href="#tu" x="314.7" y="820.9"/><use href="#tu" x="315.5" y="820.5"/><use href="#tu" x="316.2" y="820.0"/><use href="#tu" x="317.0" y="820.2"/><use href="#tu" x="317.7" y="820.4"/><use href="#tu" x="318.5" y="819.0"/><use href="#tu" x="319.3" y="820.3"/><use href="#tu" x="320.0" y="821.5"/><use href="#tu" x="320.8" y="819.8"/><use href="#tu" x="321.5" y="820.5"/><use href="#tu" x="322.3" y="821.6"/><use href="#tu" x="323.0" y="821.0"/><use href="#tu" x="323.8" y="821.2"/><use href="#tu" x="324.5" y="820.5"/><use href="#tu" x="325.3" y="819.8"/><use href="#tu" x="326.0" y="822.3"/><use href="#tu" x="326.8" y="820.8"/><use href="#tu" x="327.5" y="820.7"/></g><g fill="#12B068"><use href="#td" x="328.3" y="792.7"/><use href="#td" x="329.1" y="792.1"/><use href="#td" x="329.8" y="791.3"/><use href="#td" x="330.6" y="791.3"/><use href="#td" x="331.3" y="790.6"/><use href="#td" x="332.1" y="791.3"/><use href="#td" x="332.8" y="792.2"/><use href="#td" x="333.6" y="791.7"/><use href="#td" x="334.3" y="791.9"/><use href="#td" x="335.1" y="790.2"/><use href="#td" x="335.8" y="790.7"/><use href="#td" x="336.6" y="792.0"/><use href="#td" x="337.3" y="792.2"/><use href="#td" x="338.1" y="791.9"/><use href="#td" x="338.9" y="792.5"/><use href="#td" x="339.6" y="790.5"/><use href="#td" x="340.4" y="790.6"/><use href="#td" x="341.1" y="790.0"/><use href="#td" x="341.9" y="791.5"/><use href="#td" x="342.6" y="793.2"/><use href="#td" x="343.4" y="792.3"/><use href="#td" x="344.1" y="791.6"/><use href="#td" x="344.9" y="793.5"/><use href="#td" x="345.6" y="794.2"/><use href="#td" x="346.4" y="792.6"/><use href="#td" x="347.1" y="794.1"/><use href="#td" x="347.9" y="791.2"/><use href="#td" x="348.7" y="790.9"/><use href="#td" x="349.4" y="791.1"/><use href="#td" x="350.2" y="790.8"/><use href="#td" x="350.9" y="790.0"/><use href="#td" x="351.7" y="791.7"/><use href="#td" x="352.4" y="791.3"/><use href="#td" x="353.2" y="792.2"/><use href="#td" x="353.9" y="790.4"/><use href="#td" x="354.7" y="790.7"/><use href="#td" x="355.4" y="791.3"/><use href="#td" x="356.2" y="794.8"/><use href="#td" x="357.0" y="794.9"/><use href="#td" x="357.7" y="793.4"/><use href="#td" x="358.5" y="793.6"/><use href="#td" x="359.2" y="792.9"/><use href="#td" x="360.0" y="789.8"/><use href="#td" x="360.7" y="794.7"/><use href="#td" x="361.5" y="793.7"/><use href="#td" x="362.2" y="790.5"/><use href="#td" x="363.0" y="790.9"/><use href="#td" x="363.7" y="791.2"/><use href="#td" x="364.5" y="795.4"/><use href="#td" x="365.2" y="793.7"/><use href="#td" x="366.0" y="790.5"/><use href="#td" x="366.8" y="790.1"/><use href="#td" x="367.5" y="790.5"/><use href="#td" x="368.3" y="790.7"/><use href="#td" x="369.0" y="791.1"/><use href="#td" x="369.8" y="791.9"/><use href="#td" x="370.5" y="791.8"/><use href="#td" x="371.3" y="790.2"/><use href="#td" x="372.0" y="791.2"/><use href="#td" x="372.8" y="792.5"/><use href="#td" x="373.5" y="790.2"/><use href="#td" x="374.3" y="790.6"/><use href="#td" x="375.0" y="792.3"/><use href="#td" x="375.8" y="791.0"/><use href="#td" x="376.6" y="794.2"/><use href="#td" x="377.3" y="789.6"/><use href="#td" x="378.1" y="790.8"/><use href="#td" x="378.8" y="790.8"/><use href="#td" x="379.6" y="790.9"/><use href="#td" x="380.3" y="791.4"/><use href="#td" x="381.1" y="791.0"/><use href="#td" x="381.8" y="790.7"/><use href="#td" x="382.6" y="789.7"/><use href="#td" x="383.3" y="791.0"/><use href="#td" x="384.1" y="793.2"/><use href="#td" x="384.9" y="792.8"/><use href="#td" x="385.6" y="790.6"/><use href="#td" x="386.4" y="790.7"/><use href="#td" x="387.1" y="792.4"/><use href="#td" x="387.9" y="793.0"/><use href="#td" x="388.6" y="792.2"/><use href="#td" x="389.4" y="794.1"/><use href="#td" x="390.1" y="791.3"/><use href="#td" x="390.9" y="791.9"/><use href="#td" x="391.6" y="791.8"/><use href="#td" x="392.4" y="792.3"/><use href="#td" x="393.1" y="791.5"/><use href="#td" x="393.9" y="791.5"/><use href="#td" x="394.7" y="791.7"/><use href="#td" x="395.4" y="791.6"/><use href="#td" x="396.2" y="789.7"/><use href="#td" x="396.9" y="793.1"/><use href="#td" x="397.7" y="790.4"/><use href="#td" x="398.4" y="791.9"/><use href="#td" x="399.2" y="791.0"/><use href="#td" x="399.9" y="790.9"/><use href="#td" x="400.7" y="790.8"/><use href="#td" x="401.4" y="791.4"/><use href="#td" x="402.2" y="792.9"/><use href="#td" x="402.9" y="791.7"/></g><g fill="#C272E6"><use href="#di" x="403.7" y="842.0"/><use href="#di" x="404.5" y="841.6"/><use href="#di" x="405.2" y="842.2"/><use href="#di" x="406.0" y="842.0"/><use href="#di" x="406.7" y="842.0"/><use href="#di" x="407.5" y="842.0"/><use href="#di" x="408.2" y="841.8"/><use href="#di" x="409.0" y="841.7"/><use href="#di" x="409.7" y="841.2"/><use href="#di" x="410.5" y="841.6"/><use href="#di" x="411.2" y="842.1"/><use href="#di" x="412.0" y="842.2"/><use href="#di" x="412.7" y="842.0"/><use href="#di" x="413.5" y="841.5"/><use href="#di" x="414.3" y="841.9"/><use href="#di" x="415.0" y="842.0"/><use href="#di" x="415.8" y="841.7"/><use href="#di" x="416.5" y="842.3"/><use href="#di" x="417.3" y="841.7"/><use href="#di" x="418.0" y="842.0"/><use href="#di" x="418.8" y="841.7"/><use href="#di" x="419.5" y="842.2"/><use href="#di" x="420.3" y="841.7"/><use href="#di" x="421.0" y="841.8"/><use href="#di" x="421.8" y="842.3"/><use href="#di" x="422.5" y="841.7"/><use href="#di" x="423.3" y="841.9"/><use href="#di" x="424.1" y="842.1"/><use href="#di" x="424.8" y="842.1"/><use href="#di" x="425.6" y="841.6"/><use href="#di" x="426.3" y="842.1"/><use href="#di" x="427.1" y="841.9"/><use href="#di" x="427.8" y="842.3"/><use href="#di" x="428.6" y="841.6"/><use href="#di" x="429.3" y="842.2"/><use href="#di" x="430.1" y="842.1"/><use href="#di" x="430.8" y="841.9"/><use href="#di" x="431.6" y="841.9"/><use href="#di" x="432.4" y="842.1"/><use href="#di" x="433.1" y="841.8"/><use href="#di" x="433.9" y="841.9"/><use href="#di" x="434.6" y="841.8"/><use href="#di" x="435.4" y="842.0"/><use href="#di" x="436.1" y="842.2"/><use href="#di" x="436.9" y="841.6"/><use href="#di" x="437.6" y="842.0"/><use href="#di" x="438.4" y="842.1"/><use href="#di" x="439.1" y="842.4"/><use href="#di" x="439.9" y="841.8"/><use href="#di" x="440.6" y="842.3"/><use href="#di" x="441.4" y="841.9"/><use href="#di" x="442.2" y="842.1"/><use href="#di" x="442.9" y="842.1"/><use href="#di" x="443.7" y="842.1"/><use href="#di" x="444.4" y="841.9"/><use href="#di" x="445.2" y="841.8"/><use href="#di" x="445.9" y="842.4"/><use href="#di" x="446.7" y="842.4"/><use href="#di" x="447.4" y="842.0"/><use href="#di" x="448.2" y="842.0"/><use href="#di" x="448.9" y="841.9"/><use href="#di" x="449.7" y="841.7"/><use href="#di" x="450.4" y="841.7"/><use href="#di" x="451.2" y="842.1"/><use href="#di" x="452.0" y="842.2"/><use href="#di" x="452.7" y="841.9"/><use href="#di" x="453.5" y="841.8"/><use href="#di" x="454.2" y="841.7"/><use href="#di" x="455.0" y="841.8"/><use href="#di" x="455.7" y="842.2"/><use href="#di" x="456.5" y="842.0"/><use href="#di" x="457.2" y="841.6"/><use href="#di" x="458.0" y="841.7"/><use href="#di" x="458.7" y="842.1"/><use href="#di" x="459.5" y="842.1"/><use href="#di" x="460.2" y="842.4"/><use href="#di" x="461.0" y="842.4"/><use href="#di" x="461.8" y="842.0"/><use href="#di" x="462.5" y="841.8"/><use href="#di" x="463.3" y="842.0"/><use href="#di" x="464.0" y="841.7"/><use href="#di" x="464.8" y="841.8"/><use href="#di" x="465.5" y="842.2"/><use href="#di" x="466.3" y="842.2"/><use href="#di" x="467.0" y="842.2"/><use href="#di" x="467.8" y="842.4"/><use href="#di" x="468.5" y="841.9"/><use href="#di" x="469.3" y="842.2"/><use href="#di" x="470.1" y="842.0"/><use href="#di" x="470.8" y="842.1"/><use href="#di" x="471.6" y="842.1"/><use href="#di" x="472.3" y="842.1"/><use href="#di" x="473.1" y="841.7"/><use href="#di" x="473.8" y="841.7"/><use href="#di" x="474.6" y="842.0"/><use href="#di" x="475.3" y="842.1"/><use href="#di" x="476.1" y="841.9"/><use href="#di" x="476.8" y="842.0"/><use href="#di" x="477.6" y="841.6"/><use href="#di" x="478.3" y="842.2"/></g><line x1="64.4" y1="840.1" x2="479.1" y2="840.1" stroke="#F41A1A" stroke-width="1.5"/><g stroke="#000" stroke-width="1.5" fill="none" stroke-linejoin="miter"><path d="M64.4,491.9 H517.2 V873.5 H64.4 Z"/><path d="M61.1,491.9 H64.4"/><path d="M61.1,873.5 H64.4"/></g><g stroke="#000" stroke-width="1.4"><line x1="102.1" y1="873.5" x2="102.1" y2="880.7"/><line x1="177.5" y1="873.5" x2="177.5" y2="880.7"/><line x1="252.9" y1="873.5" x2="252.9" y2="880.7"/><line x1="328.3" y1="873.5" x2="328.3" y2="880.7"/><line x1="403.7" y1="873.5" x2="403.7" y2="880.7"/><line x1="479.1" y1="873.5" x2="479.1" y2="880.7"/><line x1="64.4" y1="841.5" x2="57.4" y2="841.5"/><line x1="64.4" y1="777.9" x2="57.4" y2="777.9"/><line x1="64.4" y1="714.3" x2="57.4" y2="714.3"/><line x1="64.4" y1="650.6" x2="57.4" y2="650.6"/><line x1="64.4" y1="587.0" x2="57.4" y2="587.0"/><line x1="64.4" y1="523.4" x2="57.4" y2="523.4"/><line x1="64.4" y1="809.7" x2="60.8" y2="809.7"/><line x1="64.4" y1="746.1" x2="60.8" y2="746.1"/><line x1="64.4" y1="682.5" x2="60.8" y2="682.5"/><line x1="64.4" y1="618.8" x2="60.8" y2="618.8"/><line x1="64.4" y1="555.2" x2="60.8" y2="555.2"/></g><g style="font-family:'Liberation Serif','Times New Roman',serif;font-size:15.3px" fill="#111" text-anchor="middle"><text x="102.1" y="898.3">0</text><text x="177.5" y="898.3">100</text><text x="252.9" y="898.3">200</text><text x="328.3" y="898.3">300</text><text x="403.7" y="898.3">400</text><text x="479.1" y="898.3">500</text></g><g class="y2" style="font-family:'Liberation Serif','Times New Roman',serif;font-size:16.3px" fill="#111" text-anchor="middle"><text x="33.2 39.0 48.7" y="847.9">0.0</text><text x="33.2 39.0 48.7" y="784.3">0.2</text><text x="33.2 39.0 48.7" y="720.7">0.4</text><text x="33.2 39.0 48.7" y="657.0">0.6</text><text x="33.2 39.0 48.7" y="593.4">0.8</text><text x="33.2 39.0 48.7" y="529.8">1.0</text></g><text x="292.5" y="922.0" text-anchor="middle" style="font-family:'Liberation Serif','Times New Roman',serif;font-size:15.3px" fill="#111">Sample</text><text transform="translate(21.5,681.7) rotate(-90)" text-anchor="middle" style="font-family:'Liberation Serif','Times New Roman',serif;font-size:19.8px" fill="#111">Reconstruction error</text><text x="37.8" y="945.8" textLength="505" lengthAdjust="spacingAndGlyphs" style="font-family:'Liberation Serif','Times New Roman',serif;font-size:15.5px" fill="#111">(b)fault identification results under unspupervised condition of Self-build dataset</text><rect x="236" y="503.5" width="273.7" height="30" fill="#fff" stroke="#8c8c8c" stroke-width="1"/><use href="#sq2" x="249.5" y="511.7" fill="#464646"/><use href="#td" x="249.5" y="526.2" fill="#12B068"/><circle cx="328.5" cy="511.7" r="2.5" fill="#F02A2A"/><use href="#di" x="330" y="525.9" fill="#C272E6"/><use href="#tu" x="428.5" y="511.4" fill="#1468E0"/><line x1="418.7" y1="526" x2="437.9" y2="526" stroke="#F59A9A" stroke-width="1.5"/><g class="lg" style="font-family:'Liberation Serif','Times New Roman',serif;font-size:10.5px" fill="#1a1a1a"><text x="261.8" y="515.2">Cage fault</text><text x="264.5" y="529.7">Ball fault</text><text x="341.5" y="515.2">inner race fault</text><text x="342.7" y="529.7">Normal</text><text x="440.5" y="515.2">Outer race fault</text><text x="442.3" y="529.7">Threshold</text></g></svg></body></html>
